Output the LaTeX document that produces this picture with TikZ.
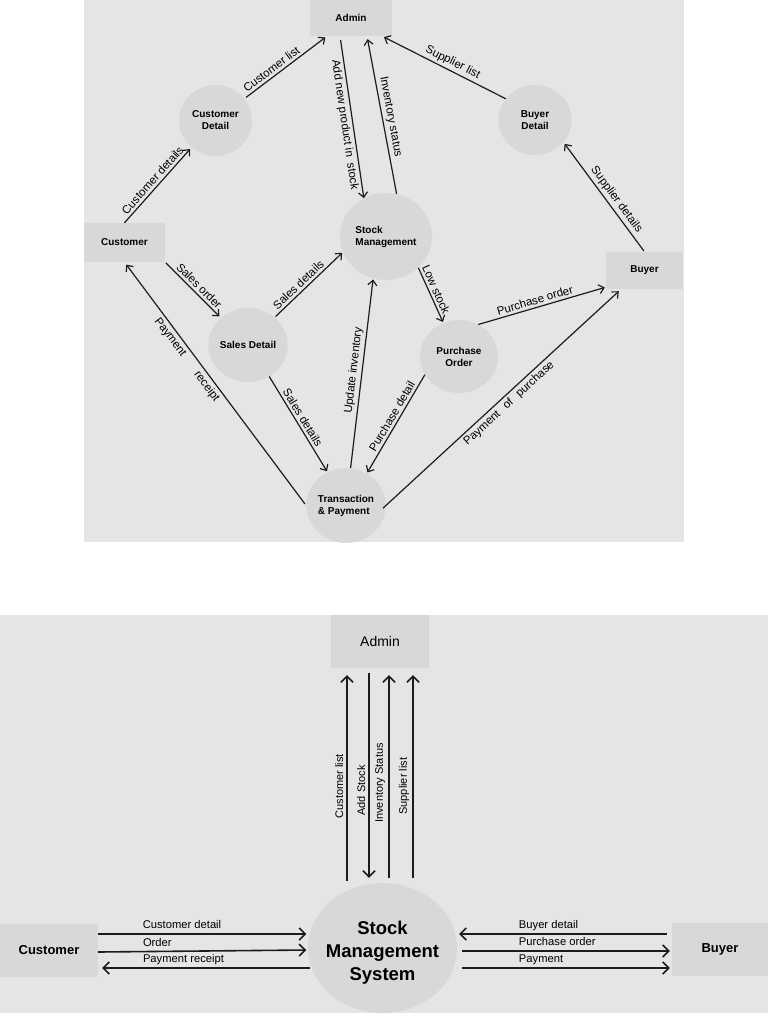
\documentclass[tikz,border=0pt]{standalone}
\usepackage{fontspec}
\setmainfont{Liberation Sans}
\usetikzlibrary{arrows.meta,shapes.geometric,calc}
\definecolor{bgc}{RGB}{229,229,229}
\definecolor{nodec}{RGB}{216,216,216}
\definecolor{linec}{RGB}{28,28,28}
\begin{document}
\begin{tikzpicture}[x=1pt,y=-1pt,
  boxT/.style={rectangle, fill=nodec, inner sep=0pt, font=\fontsize{10}{12}\selectfont\bfseries, align=center},
  procT/.style={ellipse, fill=nodec, inner sep=0pt, font=\fontsize{10}{12}\selectfont\bfseries, align=center},
  flowT/.style={draw=linec, line width=1.2pt, -{Straight Barb[length=5pt,width=9pt]}},
  lblT/.style={font=\fontsize{11.5}{13}\selectfont, inner sep=2.5pt, sloped},
  boxB/.style={rectangle, fill=nodec, inner sep=0pt, minimum height=53pt},
  flowB/.style={draw=linec, line width=1.6pt, -{Straight Barb[length=6pt,width=12pt]}},
  lblB/.style={font=\fontsize{11.2}{13}\selectfont, inner sep=0pt, anchor=base west, yshift=5.5pt},
  lblV/.style={font=\fontsize{11}{13}\selectfont, inner sep=3pt, rotate=90, anchor=south}
]
\useasboundingbox (0,0) rectangle (768,1024);
\fill[white] (0,0) rectangle (768,1024);
% backgrounds
\fill[bgc] (84,0) rectangle (684,542);
\fill[bgc] (0,615) rectangle (768,1013);

% ---------- top diagram ----------
\node[boxT, minimum width=82pt, minimum height=36pt] (adminT) at (351,18) {Admin};
\node[boxT, minimum width=81pt, minimum height=39pt] (custT) at (124.5,242.5) {Customer};
\node[boxT, minimum width=77pt, minimum height=37pt] (buyerT) at (644.5,270.5) {Buyer};
\node[procT, minimum width=73pt, minimum height=71pt] (cdet) at (215.5,120.5) {Customer\\Detail};
\node[procT, minimum width=73pt, minimum height=70pt] (bdet) at (535,120) {Buyer\\Detail};
\node[procT, minimum width=92pt, minimum height=87pt, align=left] (stock) at (386,236.5) {Stock\\Management};
\node[procT, minimum width=78pt, minimum height=74pt] (sales) at (248,345) {Sales Detail};
\node[procT, minimum width=78pt, minimum height=73pt] (purch) at (459,356.5) {Purchase\\Order};
\node[procT, minimum width=78pt, minimum height=75pt, align=left] (trans) at (346,505.5) {Transaction\\\&~Payment};

\draw[flowT, shorten >=2pt] (custT.north) -- (cdet)
  node[lblT, pos=0.5, above] {Customer details};
\draw[flowT, shorten <=2pt, shorten >=2pt] (cdet) -- (adminT)
  node[lblT, pos=0.38, above] {Customer list};
\draw[flowT, shorten <=4pt] ([xshift=-11pt]adminT.south) -- (stock.120)
  node[lblT, pos=0.54, below] {Add new product in\hspace{6pt}stock};
\draw[flowT, shorten >=3pt] (stock.76) -- ([xshift=16pt]adminT.south)
  node[lblT, pos=0.48, above] {Inventory status};
\draw[flowT, shorten >=2pt] (bdet.144) -- ([xshift=-10pt]adminT.south east)
  node[lblT, pos=0.46, above] {Supplier list};
\draw[flowT, shorten <=1pt, shorten >=2pt] (buyerT.north) -- (bdet.-38)
  node[lblT, pos=0.43, above] {Supplier details};
\draw[flowT, shorten <=1pt, shorten >=2pt] (custT.south east) -- (sales.135)
  node[lblT, pos=0.52, above] {Sales order};
\draw[flowT, shorten <=1pt, shorten >=1pt] (sales.46) -- (stock.200)
  node[lblT, pos=0.42, above] {Sales details};
\draw[flowT, shorten <=2pt, shorten >=3pt] (trans.180) -- (custT.south)
  node[lblT, pos=0.62, below] {Payment\hspace{21pt}receipt};
\draw[flowT, shorten >=1pt] (sales.-56) -- (trans.119)
  node[lblT, pos=0.47, above] {Sales details};
\draw[flowT, shorten >=1pt] (trans.83) -- (stock.-107)
  node[lblT, pos=0.51, above] {Update inventory};
\draw[flowT, shorten >=1pt] (stock.-44) -- (purch.115)
  node[lblT, pos=0.45, above] {Low stock};
\draw[flowT, shorten >=1pt] (purch.59) -- ([yshift=2pt]buyerT.south west)
  node[lblT, pos=0.46, above] {Purchase order};
\draw[flowT, shorten >=1pt] (purch.208) -- (trans.57)
  node[lblT, pos=0.46, above] {Purchase detail};
\draw[flowT, shorten <=-4pt, shorten >=3pt] (trans.0) -- ([xshift=-23.5pt]buyerT.south)
  node[lblT, pos=0.5, below] {Payment\hspace{8pt}of\hspace{8pt}purchase};

% ---------- bottom diagram ----------
\node[boxB, minimum width=98pt, font=\fontsize{14}{16}\selectfont] (adminB) at (380,641.5) {Admin};
\node[boxB, minimum width=98pt, font=\fontsize{13}{15}\selectfont\bfseries] (custB) at (49,950.5) {Customer};
\node[boxB, minimum width=96pt, font=\fontsize{13}{15}\selectfont\bfseries] (buyerB) at (720,949.5) {Buyer};
\node[ellipse, fill=nodec, inner sep=0pt, minimum width=149pt, minimum height=130pt] (sysB) at (382.5,948) {};
\node[inner sep=0pt, align=center, font=\fontsize{18.5}{23}\selectfont\bfseries] (sysT) at (382.5,953) {Stock\\Management\\System};

\draw[flowB, shorten <=2pt, shorten >=7pt] ([xshift=-35.5pt]sysB.north) -- ([xshift=-33pt]adminB.south)
  node[lblV, pos=0.45] {Customer list};
\draw[flowB, shorten <=5pt, shorten >=5pt] ([xshift=-11pt]adminB.south) -- ([xshift=-13.5pt]sysB.north)
  node[lblV, pos=0.57] {Add Stock};
\draw[flowB, shorten <=5pt, shorten >=7pt] ([xshift=6.5pt]sysB.north) -- ([xshift=9pt]adminB.south)
  node[lblV, pos=0.465] {Inventory Status};
\draw[flowB, shorten <=5pt, shorten >=7pt] ([xshift=30.5pt]sysB.north) -- ([xshift=33pt]adminB.south)
  node[lblV, pos=0.45] {Supplier list};

\coordinate (cdL) at ([yshift=16.5pt]custB.east);
\coordinate (cdR) at (cdL -| sysB.west);
\coordinate (orL) at ([yshift=-1.5pt]custB.east);
\coordinate (orR) at ($(custB.east -| sysB.west)+(0,-0.5)$);
\coordinate (prL) at ([yshift=-17.5pt]custB.east);
\coordinate (prR) at (prL -| sysB.west);
\coordinate (bdR) at ([yshift=15.5pt]buyerB.west);
\coordinate (bdL) at (bdR -| sysB.east);
\coordinate (poR) at ([yshift=-1.5pt]buyerB.west);
\coordinate (poL) at (poR -| sysB.east);
\coordinate (pyR) at ([yshift=-18.5pt]buyerB.west);
\coordinate (pyL) at (pyR -| sysB.east);

\draw[flowB, shorten >=1.5pt] (cdL) -- (cdR)
  node[lblB, pos=0.209] {Customer detail};
\draw[flowB, shorten >=1.5pt] (orL) -- (orR)
  node[lblB, pos=0.21] {Order};
\draw[flowB, shorten <=-2pt, shorten >=4pt] (prR) -- (prL)
  node[lblB, pos=0.79] {Payment receipt};
\draw[flowB, shorten <=5pt, shorten >=2pt] (bdR) -- (bdL)
  node[lblB, pos=0.716] {Buyer detail};
\draw[flowB, shorten <=5pt, shorten >=2pt] (poL) -- (poR)
  node[lblB, pos=0.284] {Purchase order};
\draw[flowB, shorten <=5pt, shorten >=2pt] (pyL) -- (pyR)
  node[lblB, pos=0.284] {Payment};
\end{tikzpicture}
\end{document}
